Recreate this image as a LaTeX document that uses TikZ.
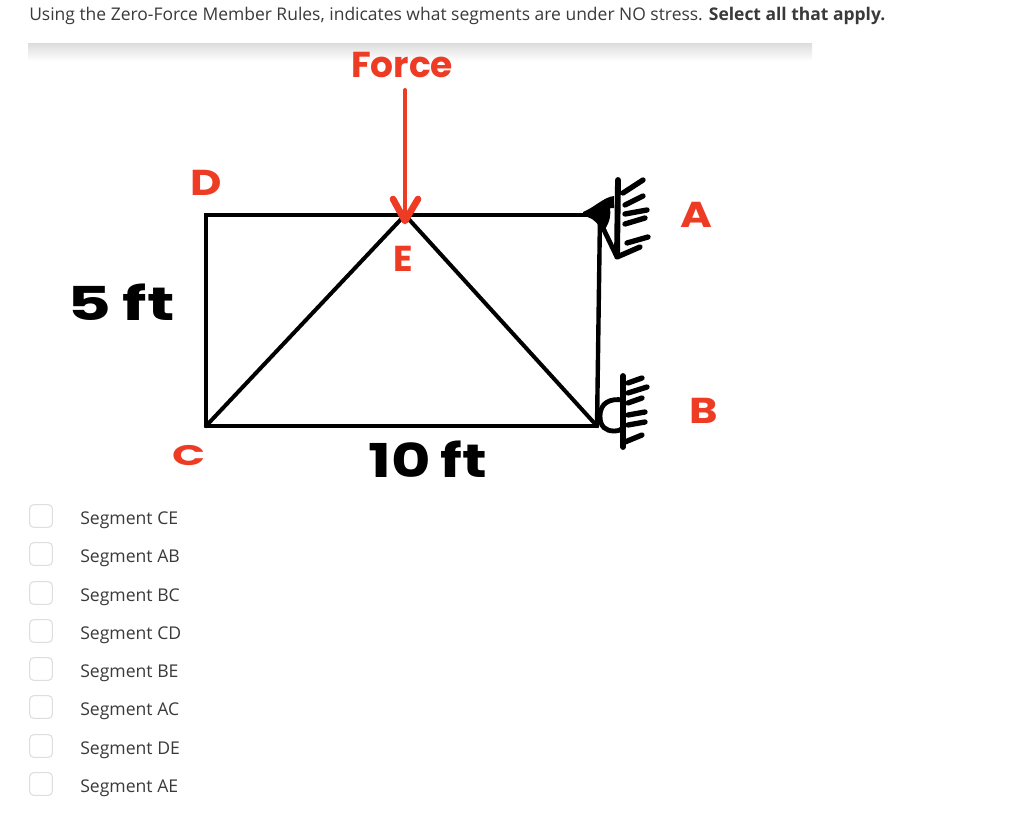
\documentclass[tikz,border=0pt]{standalone}
\usepackage{fontspec}
\setmainfont{Open Sans}
\newfontfamily\handfont{Poppins}
\definecolor{inkred}{HTML}{EE3B24}
\definecolor{uitext}{HTML}{3A3A3A}
\definecolor{boxgray}{HTML}{DEDEDE}
\tikzset{
  x=0.75pt,y=-0.75pt,
  member/.style={line width=3.3pt,line cap=round,line join=miter},
  wall/.style={line width=4.4pt,line cap=round},
  tick/.style={line width=4pt,line cap=round},
  forceline/.style={inkred,line width=3pt,line cap=round,line join=round},
  redletter/.style={inkred,font=\handfont\bfseries\fontsize{27}{30}\selectfont,inner sep=0pt},
  dimtext/.style={black,font=\handfont\bfseries\fontsize{35}{40}\selectfont,inner sep=0pt},
  optbox/.style={draw=boxgray,line width=0.8pt,rounded corners=3pt,minimum width=17pt,minimum height=17pt,inner sep=0pt,fill=white},
  opttext/.style={anchor=west,uitext,font=\fontsize{13.2}{16}\selectfont,inner sep=0pt},
}
\begin{document}
\begin{tikzpicture}
\useasboundingbox (0,0) rectangle (1024,820);
\fill[white] (0,0) rectangle (1024,820);
\shade[top color=black!13,bottom color=white,draw=none] (28,44) rectangle (812,61);
\node[anchor=west,uitext,inner sep=0pt,font=\fontsize{13.1}{16}\selectfont] (title) at (29,15.5) {Using the Zero-Force Member Rules, indicates what segments are under NO stress. \textbf{Select all that apply.}};
% joints
\coordinate (D) at (206,215);
\coordinate (E) at (405,215);
\coordinate (A) at (600,215);
\coordinate (B) at (597,426);
\coordinate (C) at (206,426);
\coordinate (Ftop) at (405,90);
\coordinate (Ftip) at (405,221);
% members
\draw[member] (C) -- (D) -- (E) -- (A);
\draw[member] (C) -- (B);
\draw[member] (A) -- (B);
\draw[member,line width=3pt] (C) -- (E) -- (B);
% support A
\fill (583,212) .. controls (595,207) and (604,197) .. (614,196) -- (614,208) -- (610,208) .. controls (611,214) and (610,222) .. (605,229) -- (599,226) .. controls (595,220) and (590,217) .. (583,216) -- cycle;
\draw[line width=3.6pt,line cap=round] (603,228) -- (616,255);
\draw[wall] (618,180) -- (617,256);
\foreach \a/\b/\c/\d in {623/193/643/180, 625/205/643/196, 625/214/647/210, 625/224/645/218, 627/243/648/237, 617/257/640/247}
  \draw[tick] (\a,\b) -- (\c,\d);
% support B
\draw[line width=3.6pt] (623,400) .. controls (610,398) and (600,403) .. (600,416) .. controls (600,427) and (606,431) .. (614,431) .. controls (618,431) and (621,430) .. (623,428);
\draw[wall] (623,376) -- (623,447);
\foreach \a/\b/\c/\d in {628/383/642/378, 628/393/647/387, 628/403/642/398, 628/415/645/412, 628/425/645/422, 625/442/642/435}
  \draw[tick] (\a,\b) -- (\c,\d);
% force
\draw[forceline] (Ftop) -- (Ftip);
\draw[forceline,line width=5pt] (393,199) -- (Ftip) -- (418,199);
\fill[inkred] (396,207) -- (405,222) -- (414,207) -- (405,212) -- cycle;
% labels
\node[redletter] (force) at (402,65) {Force};
\node[redletter,xscale=1.2] (lD) at (206,183) {D};
\node[redletter] (lE) at (403,259) {E};
\node[redletter,xscale=1.2] (lA) at (696,215) {A};
\node[redletter,xscale=1.2] (lB) at (704,411) {B};
\node[redletter,font=\handfont\bfseries\fontsize{25}{28}\selectfont,xscale=1.3,yscale=0.85] (lC) at (189,456) {C};
\node[dimtext,xscale=1.45] (five) at (121,302) {5\,ft};
\node[dimtext,xscale=1.3] (ten) at (428,459) {10\,ft};
% options
\foreach \i/\yy/\t in {1/516/CE,2/554/AB,3/593/BC,4/631/CD,5/669/BE,6/707/AC,7/746/DE,8/784/AE}{
  \node[optbox] (box\i) at (41,\yy) {};
  \node[opttext] (opt\i) at (80,\yy+4.5) {Segment \t};
}
\end{tikzpicture}
\end{document}
